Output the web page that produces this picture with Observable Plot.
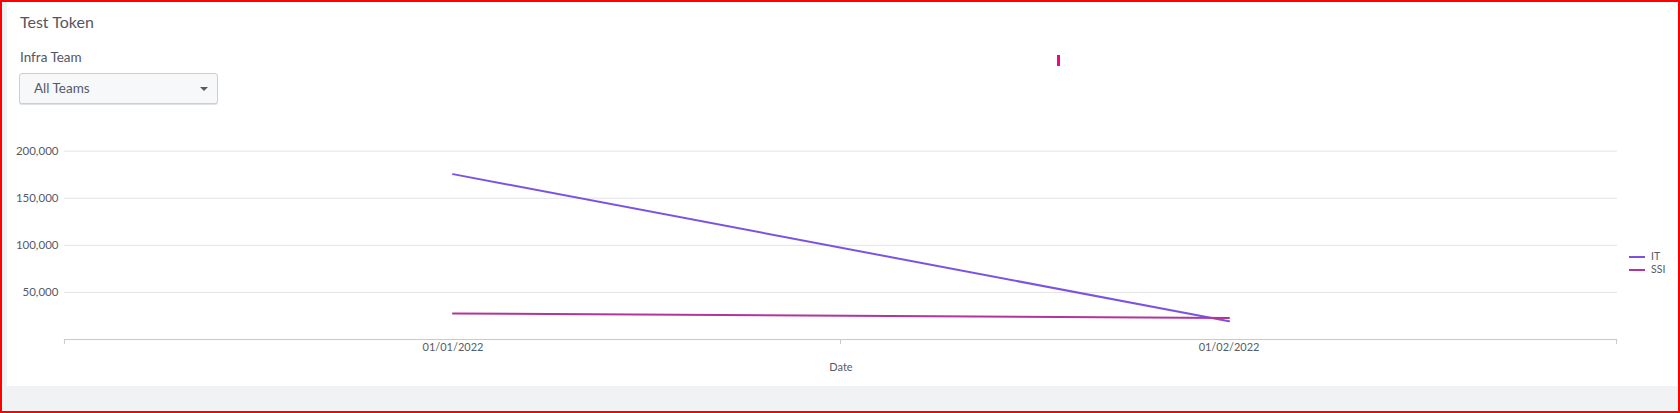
<!DOCTYPE html>
<html>
<head>
<meta charset="utf-8">
<script src="https://cdn.jsdelivr.net/npm/d3@7"></script>
<script src="https://cdn.jsdelivr.net/npm/@observablehq/plot@0.6"></script>
<style>
  html, body { margin: 0; padding: 0; background: #fff; }
  #page {
    position: relative; width: 1680px; height: 413px; box-sizing: border-box;
    border: 2px solid #ff0000; background: #f1f2f4; overflow: hidden;
    font-family: Lato, "Open Sans", sans-serif;
  }
  #card { position: absolute; left: 5px; top: 0; width: 1671px; height: 384px; background: #fff; }
  .abs { position: absolute; white-space: nowrap; }
  #title { left: 18px; top: 10px; font-size: 16px; color: #525662; }
  #filterLabel { left: 18px; top: 47px; font-size: 13.5px; color: #525662; }
  #dropdown {
    left: 17px; top: 71px; width: 197px; height: 29px; border: 1px solid #cbced4;
    border-radius: 3px; background: #f7f8fa; box-shadow: 0 1px 0 #dfe1e5;
  }
  #dropdown span { position: absolute; left: 14px; top: 6px; font-size: 13.5px; color: #555a66; }
  #caret { position: absolute; left: 180px; top: 13px; width: 0; height: 0;
    border-left: 4px solid transparent; border-right: 4px solid transparent; border-top: 4px solid #555a66; }
  #pink { left: 1055px; top: 53px; width: 3px; height: 11px; background: #ec078c; }
  #chart { position: absolute; left: -2px; top: 116px; }
  #legend { left: 1627px; top: 248px; font-size: 10.5px; color: #555a66; line-height: 13px; }
  #legend .item { display: flex; align-items: center; }
  #legend .sw { width: 16px; height: 2px; margin-right: 6px; }
</style>
</head>
<body>
<div id="page">
  <div id="card"></div>
  <div class="abs" id="title">Test Token</div>
  <div class="abs" id="filterLabel">Infra Team</div>
  <div class="abs" id="dropdown"><span>All Teams</span><div id="caret"></div></div>
  <div class="abs" id="pink"></div>
  <div id="chart"></div>
  <div class="abs" id="legend"></div>
</div>
<script>
const dates = ["01/01/2022", "01/02/2022"];
const teams = ["IT", "SSI"];
const itValues = [175600, 19400];
const ssiValues = [27600, 22900];
const teamColors = ["#7b53e2", "#b2359a"];
const yTicks = [50000, 100000, 150000, 200000];
const xLabel = "Date";

const data = [];
dates.forEach((d, i) => {
  data.push({date: d, team: "IT", value: itValues[i]});
  data.push({date: d, team: "SSI", value: ssiValues[i]});
});

const textColor = "#565a68";

function boundaryTicks(index, scales, values, dimensions) {
  const {width, height, marginLeft, marginRight, marginBottom} = dimensions;
  const y0 = height - marginBottom;
  let xs;
  if (scales && typeof scales.x === "function") {
    const centers = dates.map((d) => scales.x(d));
    const step = centers.length > 1 ? centers[1] - centers[0] : (width - marginLeft - marginRight);
    xs = [centers[0] - step / 2, ...centers.map((c) => c + step / 2)];
  } else {
    const x0 = marginLeft, x1 = width - marginRight, n = dates.length;
    xs = d3.range(n + 1).map((i) => x0 + (x1 - x0) * i / n);
  }
  const g = d3.create("svg:g");
  for (const x of xs) {
    g.append("line").attr("x1", x).attr("x2", x).attr("y1", y0).attr("y2", y0 + 5)
      .attr("stroke", "#c8c8ce").attr("stroke-width", 1);
  }
  return g.node();
}

const chart = Plot.plot({
  width: 1680,
  height: 262,
  marginLeft: 64,
  marginRight: 61,
  marginTop: 32.7,
  marginBottom: 40.7,
  style: {fontFamily: "Lato, 'Open Sans', sans-serif", background: "transparent", overflow: "visible"},
  x: {type: "point", domain: dates, padding: 0.5, axis: null},
  y: {domain: [0, 200000], axis: null},
  color: {domain: teams, range: teamColors},
  marks: [
    Plot.gridY(yTicks, {stroke: "#e3e3e8", strokeOpacity: 1}),
    Plot.axisY(yTicks, {tickSize: 0, tickPadding: 6, tickFormat: d3.format(","), fontSize: 11.5, fill: textColor, label: null}),
    Plot.ruleY([0], {stroke: "#c8c8ce"}),
    boundaryTicks,
    Plot.axisX({tickSize: 0, tickPadding: 4, fontSize: 11, fill: textColor, label: null}),
    Plot.text([xLabel], {frameAnchor: "bottom", dy: 28, fontSize: 11, fill: textColor, lineAnchor: "middle"}),
    Plot.line(data, {x: "date", y: "value", z: "team", stroke: "team", strokeWidth: 2})
  ]
});
document.getElementById("chart").appendChild(chart);

const legend = document.getElementById("legend");
teams.forEach((t, i) => {
  const item = document.createElement("div");
  item.className = "item";
  item.innerHTML = `<div class="sw" style="background:${teamColors[i]}"></div><span>${t}</span>`;
  legend.appendChild(item);
});
</script>
</body>
</html>
